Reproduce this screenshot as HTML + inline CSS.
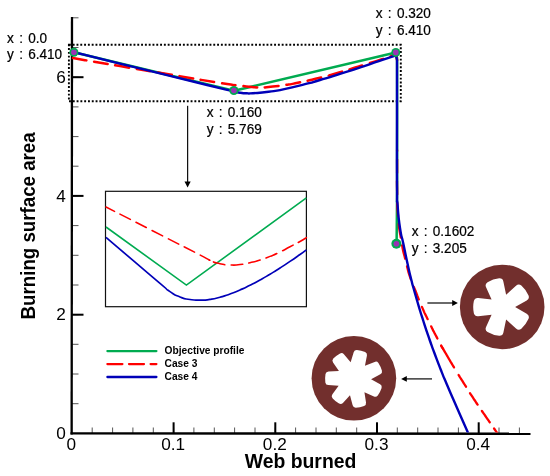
<!DOCTYPE html>
<html><head><meta charset="utf-8"><title>Burning surface area</title>
<style>html,body{margin:0;padding:0;background:#fff;}svg{display:block;}text{font-family:"Liberation Sans",Arial,sans-serif;fill:#000;}</style></head><body>
<svg width="550" height="476" viewBox="0 0 550 476">
<rect width="550" height="476" fill="#fff"/>
<g stroke="#555" stroke-width="1">
<line x1="72" x2="78.5" y1="403.7" y2="403.7"/>
<line x1="72" x2="78.5" y1="374.0" y2="374.0"/>
<line x1="72" x2="78.5" y1="344.3" y2="344.3"/>
<line x1="72" x2="78.5" y1="314.7" y2="314.7"/>
<line x1="72" x2="78.5" y1="285.0" y2="285.0"/>
<line x1="72" x2="78.5" y1="255.3" y2="255.3"/>
<line x1="72" x2="78.5" y1="225.6" y2="225.6"/>
<line x1="72" x2="78.5" y1="195.9" y2="195.9"/>
<line x1="72" x2="78.5" y1="166.2" y2="166.2"/>
<line x1="72" x2="78.5" y1="136.6" y2="136.6"/>
<line x1="72" x2="78.5" y1="106.9" y2="106.9"/>
<line x1="72" x2="78.5" y1="77.2" y2="77.2"/>
<line x1="72" x2="78.5" y1="47.5" y2="47.5"/>
<line x1="72" x2="78.5" y1="17.8" y2="17.8"/>
<line x1="92.2" x2="92.2" y1="427.5" y2="433"/>
<line x1="112.6" x2="112.6" y1="427.5" y2="433"/>
<line x1="132.9" x2="132.9" y1="427.5" y2="433"/>
<line x1="153.3" x2="153.3" y1="427.5" y2="433"/>
<line x1="173.6" x2="173.6" y1="427.5" y2="433"/>
<line x1="193.9" x2="193.9" y1="427.5" y2="433"/>
<line x1="214.3" x2="214.3" y1="427.5" y2="433"/>
<line x1="234.6" x2="234.6" y1="427.5" y2="433"/>
<line x1="255.0" x2="255.0" y1="427.5" y2="433"/>
<line x1="275.3" x2="275.3" y1="427.5" y2="433"/>
<line x1="295.6" x2="295.6" y1="427.5" y2="433"/>
<line x1="316.0" x2="316.0" y1="427.5" y2="433"/>
<line x1="336.3" x2="336.3" y1="427.5" y2="433"/>
<line x1="356.7" x2="356.7" y1="427.5" y2="433"/>
<line x1="377.0" x2="377.0" y1="427.5" y2="433"/>
<line x1="397.3" x2="397.3" y1="427.5" y2="433"/>
<line x1="417.7" x2="417.7" y1="427.5" y2="433"/>
<line x1="438.0" x2="438.0" y1="427.5" y2="433"/>
<line x1="458.4" x2="458.4" y1="427.5" y2="433"/>
<line x1="478.7" x2="478.7" y1="427.5" y2="433"/>
<line x1="499.0" x2="499.0" y1="427.5" y2="433"/>
<line x1="519.4" x2="519.4" y1="427.5" y2="433"/>
</g>
<g fill="#000">
<polygon points="70.5,434.6 72.8,434.6 73.15,17 70.85,17"/>
<polygon points="70.5,432.2 530.5,432.6 530.5,434.9 70.5,434.5"/>
<rect x="72" y="313.7" width="11.5" height="2"/>
<rect x="72" y="194.9" width="11.5" height="2"/>
<rect x="72" y="76.2" width="11.5" height="2"/>
<rect x="172.6" y="422.3" width="2" height="11"/>
<rect x="274.3" y="422.3" width="2" height="11"/>
<rect x="376.0" y="422.3" width="2" height="11"/>
<rect x="477.7" y="422.3" width="2" height="11"/>
</g>
<g font-size="17.2">
<text x="65.7" y="439.0" text-anchor="end">0</text>
<text x="65.7" y="320.3" text-anchor="end">2</text>
<text x="65.7" y="201.5" text-anchor="end">4</text>
<text x="65.7" y="82.8" text-anchor="end">6</text>
<text x="71.4" y="450.2" text-anchor="middle">0</text>
<text x="173.1" y="450.2" text-anchor="middle">0.1</text>
<text x="274.8" y="450.2" text-anchor="middle">0.2</text>
<text x="376.5" y="450.2" text-anchor="middle">0.3</text>
<text x="478.2" y="450.2" text-anchor="middle">0.4</text>
</g>
<text x="244.7" y="468" font-size="19.8" font-weight="bold" textLength="111.7" lengthAdjust="spacingAndGlyphs">Web burned</text>
<text transform="translate(35,319.4) rotate(-90)" font-size="19.8" font-weight="bold" textLength="187" lengthAdjust="spacingAndGlyphs">Burning surface area</text>
<rect x="68.9" y="44.8" width="331.9" height="56.4" fill="none" stroke="#000" stroke-width="1.9" stroke-dasharray="1.9 1.9"/>
<defs><clipPath id="cp"><rect x="0" y="0" width="550" height="432.4"/></clipPath></defs>
<g clip-path="url(#cp)">
<path d="M73.8,52.2 L234,90.8 L395.8,52.5 L397.1,58 L397.1,190 L396.6,243.5" fill="none" stroke="#00ab50" stroke-width="2.5" stroke-linejoin="round"/>
<path id="red1" d="M73.00,58.10 C88.67,60.77 87.67,60.63 120.00,66.10 C152.33,71.57 136.67,68.87 170.00,74.50 C203.33,80.13 196.83,79.30 220.00,83.00 C243.17,86.70 228.17,84.20 239.50,85.60 C250.83,87.00 246.50,86.60 254.00,87.20 C261.50,87.80 257.13,87.47 262.00,87.40 C266.87,87.33 261.53,87.70 268.60,87.00 C275.67,86.30 273.50,86.70 283.20,85.30 C292.90,83.90 285.43,85.30 297.70,82.80 C309.97,80.30 305.90,81.33 320.00,77.80 C334.10,74.27 325.00,76.60 340.00,72.20 C355.00,67.80 348.33,69.83 365.00,64.60 C381.67,59.37 379.67,59.83 390.00,56.50 C400.33,53.17 394.00,55.23 396.00,54.60 L397.1,60" fill="none" stroke="#ff0000" stroke-width="2.5" stroke-dasharray="13.8 7.8" stroke-dashoffset="0.1" stroke-linecap="round" stroke-linejoin="round"/>
<path d="M397.10,150.00 L397.10,150.80 L397.10,151.54 L397.10,152.23 L397.10,152.87 L397.10,153.48 L397.10,154.06 L397.10,154.63 L397.10,155.19 L397.10,155.74 L397.10,156.31 L397.10,156.89 L397.10,157.50 L397.10,158.14 L397.10,158.83 L397.10,159.57 L397.10,160.37 L397.10,161.24 L397.10,162.19 L397.10,163.22 L397.10,164.35 L397.10,165.59 L397.10,166.93 L397.10,168.40 L397.10,170.00 L397.10,171.56 L397.09,172.91 L397.09,174.07 L397.08,175.07 L397.07,175.92 L397.06,176.64 L397.05,177.25 L397.03,177.78 L397.02,178.23 L397.01,178.64 L397.00,179.01 L396.99,179.38 L396.98,179.75 L396.97,180.15 L396.97,180.60 L396.97,181.11 L396.97,181.71 L396.97,182.42 L396.98,183.26 L397.00,184.24 L397.01,185.38 L397.04,186.71 L397.07,188.24 L397.10,190.00 L397.13,191.77 L397.15,193.32 L397.17,194.70 L397.18,195.90 L397.18,196.96 L397.18,197.89 L397.17,198.71 L397.16,199.44 L397.16,200.11 L397.15,200.72 L397.15,201.30 L397.15,201.88 L397.16,202.46 L397.17,203.06 L397.19,203.72 L397.23,204.44 L397.27,205.25 L397.33,206.17 L397.39,207.21 L397.48,208.40 L397.58,209.76 L397.70,211.29 L397.84,213.03 L398.00,215.00 L398.16,216.96 L398.30,218.69 L398.42,220.22 L398.53,221.55 L398.62,222.72 L398.70,223.73 L398.78,224.62 L398.84,225.41 L398.91,226.10 L398.97,226.73 L399.04,227.32 L399.11,227.88 L399.19,228.43 L399.28,229.00 L399.38,229.60 L399.49,230.26 L399.62,231.00 L399.77,231.83 L399.94,232.78 L400.13,233.87 L400.35,235.11 L400.60,236.54 L400.88,238.16 L401.20,240.00 L401.51,241.85 L401.79,243.48 L402.04,244.91 L402.26,246.17 L402.46,247.26 L402.63,248.22 L402.79,249.05 L402.93,249.78 L403.06,250.42 L403.18,250.99 L403.30,251.51 L403.41,252.00 L403.53,252.48 L403.66,252.95 L403.79,253.46 L403.94,254.00 L404.11,254.60 L404.29,255.28 L404.50,256.06 L404.73,256.94 L404.99,257.96 L405.29,259.14 L405.63,260.47 L406.00,262.00 L406.37,263.53 L406.70,264.89 L406.99,266.08 L407.24,267.13 L407.45,268.04 L407.64,268.83 L407.81,269.51 L407.95,270.11 L408.08,270.63 L408.19,271.09 L408.30,271.50 L408.40,271.88 L408.50,272.23 L408.60,272.59 L408.71,272.95 L408.84,273.33 L408.97,273.76 L409.13,274.23 L409.31,274.78 L409.52,275.40 L409.76,276.12 L410.03,276.95 L410.34,277.91 L410.70,279.00 L411.05,280.08 L411.36,281.01 L411.61,281.79 L411.83,282.44 L412.01,282.98 L412.17,283.41 L412.29,283.76 L412.40,284.03 L412.48,284.24 L412.56,284.41 L412.63,284.55 L412.70,284.68 L412.77,284.79 L412.85,284.93 L412.94,285.08 L413.05,285.28 L413.18,285.53 L413.33,285.85 L413.52,286.26 L413.75,286.75 L414.01,287.36 L414.32,288.10 L414.68,288.97 L415.10,290.00 L415.52,291.04 L415.89,291.97 L416.21,292.79 L416.49,293.51 L416.73,294.14 L416.95,294.70 L417.14,295.20 L417.30,295.65 L417.46,296.06 L417.60,296.45 L417.74,296.82 L417.88,297.19 L418.02,297.56 L418.17,297.96 L418.34,298.39 L418.53,298.86 L418.74,299.39 L418.99,299.98 L419.27,300.65 L419.60,301.41 L419.96,302.28 L420.38,303.26 L420.86,304.36 L421.40,305.60 L421.93,306.83 L422.40,307.90 L422.80,308.83 L423.14,309.63 L423.44,310.31 L423.70,310.90 L423.91,311.41 L424.10,311.84 L424.27,312.22 L424.42,312.56 L424.57,312.88 L424.71,313.19 L424.86,313.50 L425.02,313.83 L425.20,314.20 L425.41,314.61 L425.65,315.10 L425.92,315.65 L426.25,316.31 L426.62,317.07 L427.06,317.96 L427.57,318.98 L428.14,320.16 L428.80,321.50 L429.46,322.86 L430.06,324.07 L430.58,325.16 L431.05,326.12 L431.47,326.98 L431.85,327.75 L432.18,328.44 L432.49,329.06 L432.77,329.62 L433.03,330.15 L433.27,330.64 L433.51,331.11 L433.75,331.58 L434.00,332.06 L434.26,332.56 L434.53,333.09 L434.84,333.66 L435.17,334.29 L435.54,334.99 L435.96,335.78 L436.43,336.66 L436.95,337.65 L437.54,338.76 L438.20,340.00 L438.85,341.22 L439.40,342.27 L439.87,343.16 L440.27,343.91 L440.60,344.54 L440.87,345.05 L441.10,345.47 L441.28,345.81 L441.43,346.09 L441.55,346.32 L441.66,346.51 L441.76,346.69 L441.87,346.86 L441.98,347.05 L442.11,347.26 L442.27,347.52 L442.46,347.84 L442.70,348.23 L442.98,348.71 L443.16,349.00" fill="none" stroke="#ff0000" stroke-width="2.3" stroke-dasharray="13.6 8" stroke-dashoffset="12.30" stroke-linecap="round" stroke-linejoin="round"/>
<path d="M441.38,346.00 L441.43,346.09 L441.55,346.32 L441.66,346.51 L441.76,346.69 L441.87,346.86 L441.98,347.05 L442.11,347.26 L442.27,347.52 L442.46,347.84 L442.70,348.23 L442.98,348.71 L443.33,349.29 L443.75,350.00 L444.24,350.84 L444.82,351.84 L445.50,353.00 L446.19,354.18 L446.80,355.23 L447.34,356.17 L447.82,357.00 L448.25,357.74 L448.63,358.40 L448.97,358.99 L449.28,359.52 L449.57,360.00 L449.83,360.46 L450.09,360.89 L450.34,361.31 L450.59,361.74 L450.85,362.18 L451.14,362.64 L451.44,363.15 L451.78,363.70 L452.15,364.32 L452.57,365.01 L453.04,365.79 L453.58,366.67 L454.02,367.40" fill="none" stroke="#ff0000" stroke-width="2.3" stroke-linecap="round" stroke-linejoin="round"/>
<path d="M458.63,375.00 L458.81,375.29 L459.11,375.78 L459.36,376.20 L459.58,376.57 L459.78,376.88 L459.96,377.17 L460.12,377.44 L460.29,377.70 L460.47,377.98 L460.66,378.29 L460.88,378.63 L461.13,379.03 L461.43,379.49 L461.78,380.04 L462.19,380.68 L462.67,381.44 L463.22,382.31 L463.86,383.33 L464.60,384.50 L465.34,385.67 L465.99,386.71 L466.55,387.61 L467.04,388.39 L467.46,389.07 L467.83,389.66 L468.15,390.18 L468.43,390.63 L468.67,391.03 L468.90,391.39 L469.11,391.73 L469.31,392.06 L469.52,392.39 L469.74,392.74 L469.98,393.12 L470.25,393.54 L470.56,394.01 L470.91,394.55 L471.32,395.18 L471.80,395.90 L472.34,396.73 L472.97,397.68 L473.69,398.77 L474.50,400.00 L475.31,401.23 L476.03,402.31 L476.65,403.25 L477.19,404.07 L477.66,404.77 L478.06,405.38 L478.42,405.91 L478.73,406.37 L479.00,406.78 L479.25,407.14 L479.48,407.48 L479.71,407.81 L479.94,408.14 L480.19,408.49 L480.45,408.87 L480.75,409.30 L481.09,409.78 L481.48,410.34 L481.93,410.98 L482.45,411.72 L483.04,412.58 L483.73,413.57 L484.51,414.71 L485.40,416.00 L486.31,417.32 L487.15,418.54 L487.92,419.66 L488.63,420.69 L489.28,421.63 L489.88,422.50 L490.44,423.30 L490.95,424.04 L491.42,424.72 L491.86,425.35 L492.27,425.94 L492.66,426.50 L493.03,427.03 L493.39,427.54 L493.73,428.03 L494.07,428.52 L494.42,429.01 L494.76,429.50 L495.12,430.01 L495.49,430.54 L495.87,431.09 L496.29,431.69 L496.73,432.32 L497.20,433.00" fill="none" stroke="#ff0000" stroke-width="2.3" stroke-dasharray="13.8 7.6" stroke-linecap="round" stroke-linejoin="round"/>
<path d="M73.00,52.00 C88.67,55.87 87.67,55.63 120.00,63.60 C152.33,71.57 135.00,67.30 170.00,75.90 C205.00,84.50 203.67,84.20 225.00,89.40 C246.33,94.60 228.83,90.37 234.00,91.50 C239.17,92.63 236.23,92.20 240.50,92.80 C244.77,93.40 242.63,93.17 246.80,93.30 C250.97,93.43 245.73,93.70 253.00,93.20 C260.27,92.70 258.53,93.10 268.60,91.80 C278.67,90.50 271.07,91.83 283.20,89.30 C295.33,86.77 292.73,87.30 305.00,84.20 C317.27,81.10 308.33,83.43 320.00,80.00 C331.67,76.57 325.00,78.62 340.00,73.90 C355.00,69.18 348.33,71.37 365.00,65.85 C381.67,60.33 379.67,60.87 390.00,57.35 C400.33,53.83 394.00,55.98 396.00,55.30 L397.00,60.00 C397.00,80.00 397.00,77.67 397.00,120.00 C397.00,162.33 396.80,158.67 397.00,187.00 C397.20,215.33 396.60,191.33 397.60,205.00 C398.60,218.67 398.07,215.00 400.00,228.00 C401.93,241.00 400.87,232.00 403.40,244.00 C405.93,256.00 404.95,252.00 407.60,264.00 C410.25,276.00 409.20,271.33 411.35,280.00 C413.50,288.67 411.65,281.47 414.05,290.00 C416.45,298.53 415.40,295.10 418.55,305.60 C421.70,316.10 419.78,310.03 423.50,321.50 C427.22,332.97 426.07,329.50 429.70,340.00 C433.33,350.50 430.67,343.00 434.40,353.00 C438.13,363.00 436.73,359.50 440.90,370.00 C445.07,380.50 442.67,374.50 446.90,384.50 C451.13,394.50 449.03,389.50 453.60,400.00 C458.17,410.50 455.77,405.00 460.60,416.00 C465.43,427.00 465.60,427.33 468.10,433.00" fill="none" stroke="#0000b8" stroke-width="2.4" stroke-linejoin="round"/>
</g>
<circle cx="73.9" cy="52.2" r="4.5" fill="#00ab50"/><circle cx="73.9" cy="52.2" r="2.8" fill="#9a32b4"/>
<circle cx="233.9" cy="90.5" r="4.6" fill="#00ab50"/><circle cx="233.9" cy="90.5" r="2.8" fill="#9a32b4"/>
<circle cx="395.8" cy="52.4" r="4.5" fill="#00ab50"/><circle cx="395.8" cy="52.4" r="2.8" fill="#9a32b4"/>
<circle cx="396.4" cy="243.7" r="5.0" fill="#00ab50"/><circle cx="396.4" cy="243.7" r="2.8" fill="#9a32b4"/>
<g font-size="14.15" stroke="#000" stroke-width="0.22">
<text transform="translate(7.1,42.5) scale(0.96,1)" word-spacing="1.55">x : 0.0</text>
<text transform="translate(7.1,59.3) scale(0.96,1)" word-spacing="1.55">y : 6.410</text>
<text transform="translate(206.7,117) scale(0.96,1)" word-spacing="1.55">x : 0.160</text>
<text transform="translate(206.7,133.6) scale(0.96,1)" word-spacing="1.55">y : 5.769</text>
<text transform="translate(375.8,18) scale(0.96,1)" word-spacing="1.55">x : 0.320</text>
<text transform="translate(375.8,34.6) scale(0.96,1)" word-spacing="1.55">y : 6.410</text>
<text transform="translate(411.7,236) scale(0.96,1)" word-spacing="1.55">x : 0.1602</text>
<text transform="translate(411.7,252.6) scale(0.96,1)" word-spacing="1.55">y : 3.205</text>
</g>
<line x1="187.6" y1="105.8" x2="187.6" y2="183" stroke="#111" stroke-width="1.25"/>
<path d="M184.5,181.4 L190.7,181.4 L187.6,187.4 Z" fill="#000"/>
<rect x="105.5" y="191.3" width="200.9" height="115.4" fill="#fff" stroke="#111" stroke-width="1.2"/>
<path d="M106,227 L186.4,285.1 L306.4,197.8" fill="none" stroke="#00ab50" stroke-width="1.6"/>
<path d="M106.00,207.00 C121.67,215.00 121.67,215.00 153.00,231.00 C184.33,247.00 181.00,245.20 200.00,255.00 C219.00,264.80 203.33,257.50 210.00,260.40 C216.67,263.30 213.33,262.17 220.00,263.70 C226.67,265.23 223.33,264.73 230.00,265.00 C236.67,265.27 233.33,265.27 240.00,264.50 C246.67,263.73 243.33,264.20 250.00,262.70 C256.67,261.20 253.33,262.10 260.00,260.00 C266.67,257.90 263.33,259.07 270.00,256.40 C276.67,253.73 273.33,255.20 280.00,252.00 C286.67,248.80 283.33,250.30 290.00,246.80 C296.67,243.30 294.53,244.57 300.00,241.50 C305.47,238.43 304.27,238.90 306.40,237.60" fill="none" stroke="#ff0000" stroke-width="1.55" stroke-dasharray="11.7 6.3" stroke-dashoffset="2.2" stroke-linecap="round"/>
<path d="M106.00,237.40 C115.00,245.07 115.00,245.10 133.00,260.40 C151.00,275.70 147.67,272.90 160.00,283.30 C172.33,293.70 163.33,287.03 170.00,291.60 C176.67,296.17 173.33,294.37 180.00,297.00 C186.67,299.63 183.33,298.47 190.00,299.50 C196.67,300.53 193.33,300.13 200.00,300.10 C206.67,300.07 203.33,300.37 210.00,299.40 C216.67,298.43 213.33,299.00 220.00,297.20 C226.67,295.40 223.33,296.40 230.00,294.00 C236.67,291.60 233.33,292.90 240.00,290.00 C246.67,287.10 243.33,288.63 250.00,285.30 C256.67,281.97 253.33,283.70 260.00,280.00 C266.67,276.30 263.33,278.20 270.00,274.20 C276.67,270.20 273.33,272.27 280.00,268.00 C286.67,263.73 283.33,265.90 290.00,261.40 C296.67,256.90 294.53,258.33 300.00,254.50 C305.47,250.67 304.27,251.43 306.40,249.90" fill="none" stroke="#0000b8" stroke-width="1.7"/>
<line x1="107.4" x2="156.4" y1="351.1" y2="351.1" stroke="#00ab50" stroke-width="2.3" stroke-linecap="round"/>
<line x1="107.4" x2="156.4" y1="364.1" y2="364.1" stroke="#ff0000" stroke-width="2.3" stroke-dasharray="15 6.6" stroke-linecap="round"/>
<line x1="107.4" x2="156.4" y1="377" y2="377" stroke="#0000b8" stroke-width="2.3" stroke-linecap="round"/>
<g font-size="10.2" font-weight="bold">
<text x="164.6" y="354.2">Objective profile</text>
<text x="164.6" y="367.1">Case 3</text>
<text x="164.6" y="380.2">Case 4</text>
</g>
<circle cx="502.2" cy="307" r="42.3" fill="#722f2d"/>
<path d="M506.12,294.74 L503.41,281.63 Q502.70,278.21 499.21,278.35 A28.90,28.90 0 0 0 487.54,282.14 Q484.63,284.08 486.07,287.27 L491.58,299.46 L478.28,297.99 Q474.81,297.60 473.86,300.97 A28.90,28.90 0 0 0 473.86,313.23 Q474.81,316.60 478.28,316.21 L491.58,314.74 L486.07,326.93 Q484.63,330.12 487.54,332.06 A28.90,28.90 0 0 0 499.21,335.85 Q502.70,335.99 503.41,332.57 L506.12,319.46 L516.01,328.47 Q518.60,330.83 521.34,328.66 A28.90,28.90 0 0 0 528.55,318.74 Q529.77,315.46 526.72,313.72 L515.10,307.10 L526.72,300.48 Q529.77,298.74 528.55,295.46 A28.90,28.90 0 0 0 521.34,285.54 Q518.60,283.37 516.01,285.73 Z" fill="#fff"/>
<circle cx="353.9" cy="378.3" r="42.3" fill="#722f2d"/>
<path d="M364.96,365.72 L366.95,355.50 Q367.43,353.04 365.16,351.99 A29.00,29.00 0 0 0 356.92,349.94 Q354.42,349.80 353.69,352.19 L350.65,362.15 L343.89,354.22 Q342.27,352.32 340.04,353.44 A29.00,29.00 0 0 0 333.29,358.60 Q331.63,360.47 333.04,362.53 L338.93,371.12 L328.52,371.46 Q326.02,371.54 325.50,373.98 A29.00,29.00 0 0 0 325.33,382.47 Q325.76,384.94 328.25,385.12 L338.64,385.87 L332.41,394.22 Q330.92,396.22 332.50,398.15 A29.00,29.00 0 0 0 339.04,403.58 Q341.23,404.79 342.92,402.95 L349.99,395.30 L352.63,405.37 Q353.27,407.79 355.77,407.75 A29.00,29.00 0 0 0 364.08,406.03 Q366.39,405.07 366.01,402.60 L364.43,392.30 L373.96,396.51 Q376.25,397.52 377.78,395.55 A29.00,29.00 0 0 0 381.61,387.97 Q382.30,385.57 380.13,384.32 L371.10,379.14 L380.33,374.32 Q382.55,373.16 381.96,370.73 A29.00,29.00 0 0 0 378.42,363.01 Q376.97,360.97 374.65,361.89 Z" fill="#fff"/>
<line x1="427.4" y1="303" x2="453" y2="303" stroke="#111" stroke-width="1.25"/>
<path d="M452.2,300.1 L452.2,305.9 L457.9,303 Z" fill="#000"/>
<line x1="432" y1="378.9" x2="406" y2="378.9" stroke="#111" stroke-width="1.25"/>
<path d="M406.8,376 L406.8,381.8 L401.1,378.9 Z" fill="#000"/>
</svg></body></html>
